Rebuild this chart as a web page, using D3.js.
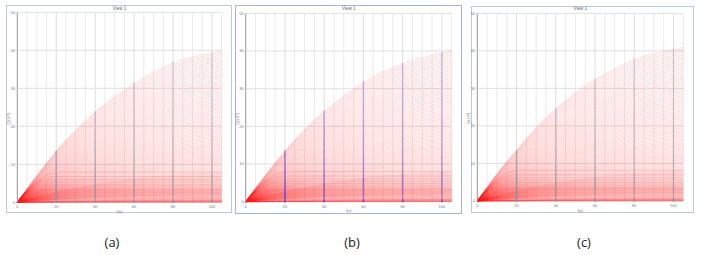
<!DOCTYPE html>
<html>
<head>
<meta charset="utf-8">
<script src="https://cdn.jsdelivr.net/npm/d3@7"></script>
<style>
  body { margin: 0; background: #fff; }
  svg { display: block; }
  .tick-label { font-family: "Liberation Sans", Arial, sans-serif; font-size: 4px; fill: #777; }
  .panel-title { font-family: "Liberation Sans", Arial, sans-serif; font-size: 4.5px; fill: #666; }
  .caption { font-family: "Open Sans", "Noto Sans", sans-serif; font-size: 13px; fill: #222; }
</style>
</head>
<body>
<svg id="canvas" width="705" height="255"></svg>
<script>
// x positions where the upper curve was read (s)
const xSamples = [0, 5, 10, 15, 20, 25, 30, 35, 40, 45, 50, 55, 60, 65, 70, 75, 80, 85, 90, 95, 100, 105];

// upper curve of each panel
const topA = [0, 3.6, 7.0, 10.3, 13.5, 16.4, 19.0, 21.5, 23.8, 25.9, 27.8, 29.6, 31.3, 32.8, 34.2, 35.5, 36.6, 37.5, 38.2, 38.8, 39.3, 39.8];
const topB = [0, 3.6, 7.0, 10.3, 13.4, 16.4, 19.1, 21.7, 24.0, 26.1, 28.1, 30.0, 31.7, 33.2, 34.5, 35.6, 36.6, 37.5, 38.2, 38.8, 39.4, 40.0];
const topC = [0, 3.7, 7.2, 10.5, 13.5, 16.6, 19.5, 22.2, 24.6, 26.8, 28.8, 30.7, 32.3, 33.8, 35.2, 36.5, 37.6, 38.5, 39.2, 39.8, 40.3, 41.0];

// height of each curve of the fan, relative to the upper curve (dense near the bottom)
const curveScales = [
  0, 0.001, 0.002, 0.003, 0.004, 0.005, 0.006, 0.008, 0.01, 0.012, 0.015,
  0.018, 0.025, 0.033, 0.042, 0.05,
  0.055, 0.06, 0.065, 0.07, 0.075, 0.08, 0.085, 0.09, 0.095, 0.10,
  0.105, 0.11, 0.115, 0.12, 0.125, 0.13, 0.135, 0.14, 0.145, 0.15,
  0.155, 0.16, 0.165, 0.17, 0.175, 0.18, 0.185, 0.19, 0.195, 0.20,
  0.207, 0.214, 0.221, 0.228, 0.235, 0.242, 0.249, 0.256, 0.263, 0.27,
  0.277, 0.284, 0.291, 0.298, 0.305, 0.313, 0.321, 0.329, 0.337, 0.345,
  0.353, 0.361, 0.369, 0.377, 0.385, 0.394, 0.403, 0.412, 0.421, 0.43,
  0.439, 0.448, 0.457, 0.466, 0.475, 0.485, 0.495, 0.505, 0.515, 0.525,
  0.535, 0.545, 0.555, 0.565, 0.575, 0.586, 0.597, 0.608, 0.619, 0.63,
  0.641, 0.652, 0.663, 0.674, 0.685, 0.697, 0.709, 0.721, 0.733, 0.745,
  0.757, 0.769, 0.781, 0.793, 0.805, 0.818, 0.831, 0.844, 0.857, 0.87,
  0.883, 0.896, 0.909, 0.922, 0.935, 0.948, 0.961, 0.974, 0.987, 1.0];

// short curves that bend off the upper curve near the origin (shrunk copies of it)
const copyScales = [
  0.01, 0.015, 0.02, 0.025, 0.03, 0.035, 0.04, 0.045, 0.05, 0.055, 0.06, 0.065,
  0.07, 0.075, 0.08, 0.085, 0.09, 0.10, 0.11, 0.12, 0.135, 0.15, 0.17, 0.20];

// measured sample columns (markers)
const markerX = [20, 40, 60, 80, 100];

const xTicks = [0, 20, 40, 60, 80, 100];
const yTicks = [0, 10, 20, 30, 40, 50];
const xMinor = [5, 10, 15, 25, 30, 35, 45, 50, 55, 65, 70, 75, 85, 90, 95, 105];

const captions = ["(a)", "(b)", "(c)"];
const titles = ["View 1", "View 1", "View 1"];

const panels = [
    { top: topA, box: [6, 5, 231, 212], px: [17.3, 221.7], py: [202.3, 12.3], cap: 112, marker: "#8a9ca8", border: "#b9c8dc" },
    { top: topB, box: [235, 5, 461, 213], px: [245.7, 451.7], py: [201.7, 13.3], cap: 352, marker: "#6e52d6", border: "#9fb4d6" },
    { top: topC, box: [471, 6, 693, 212], px: [477.3, 683.3], py: [201, 13.3], cap: 584, marker: "#8a9ca8", border: "#b9c8dc" }
];

const svg = d3.select("#canvas");

// shrunk copy of the upper curve, level once it runs out
function copyPoints(top, s) {
    const pts = xSamples.map((xv, j) => [xv * s, top[j] * s]);
    pts.push([105, top[top.length - 1] * s]);
    return pts;
}

panels.forEach((p, k) => {
    const g = svg.append("g");
    const x = d3.scaleLinear().domain([0, 105]).range(p.px);
    const y = d3.scaleLinear().domain([0, 50]).range(p.py);

    // outer frame
    g.append("rect")
        .attr("x", p.box[0] + 0.5).attr("y", p.box[1] + 0.5)
        .attr("width", p.box[2] - p.box[0]).attr("height", p.box[3] - p.box[1])
        .attr("fill", "none").attr("stroke", p.border).attr("stroke-width", 1);

    g.append("text").attr("class", "panel-title")
        .attr("x", (p.px[0] + p.px[1]) / 2).attr("y", 9.5)
        .attr("text-anchor", "middle").text(titles[k]);

    // grid
    g.selectAll(".minor").data(xMinor).join("line")
        .attr("x1", d => x(d)).attr("x2", d => x(d))
        .attr("y1", y(0)).attr("y2", y(50))
        .attr("stroke", "#e6e6e6").attr("stroke-width", 0.8);
    g.selectAll(".vmajor").data(xTicks).join("line")
        .attr("x1", d => x(d)).attr("x2", d => x(d))
        .attr("y1", y(0)).attr("y2", y(50))
        .attr("stroke", "#dadada").attr("stroke-width", 0.9);
    g.selectAll(".hmajor").data(yTicks).join("line")
        .attr("x1", x(0)).attr("x2", x(105))
        .attr("y1", d => y(d)).attr("y2", d => y(d))
        .attr("stroke", "#dcdcdc").attr("stroke-width", 0.9);

    const line = d3.line().x(d => x(d[0])).y(d => y(d[1])).curve(d3.curveMonotoneX);

    // fan: the upper curve at lower heights
    const curves = curveScales.map(s => p.top.map((v, i) => [xSamples[i], v * s]));
    const copies = copyScales.map(s => copyPoints(p.top, s));

    g.append("g").selectAll("path").data(copies).join("path")
        .attr("d", line)
        .attr("fill", "none")
        .attr("stroke", "#ff1414")
        .attr("stroke-opacity", 0.25)
        .attr("stroke-width", 0.7);

    g.append("g").selectAll("path").data(curves).join("path")
        .attr("d", line)
        .attr("fill", "none")
        .attr("stroke", "#ff1414")
        .attr("stroke-opacity", 0.2)
        .attr("stroke-width", 0.7);

    // sample markers on the fan
    const marks = [];
    curves.forEach(c => markerX.forEach(mx => marks.push(c[xSamples.indexOf(mx)])));
    g.append("g").selectAll("circle").data(marks).join("circle")
        .attr("cx", d => x(d[0])).attr("cy", d => y(d[1]))
        .attr("r", 0.9)
        .attr("fill", p.marker).attr("fill-opacity", 0.3);

    // y axis
    g.append("line")
        .attr("x1", x(0)).attr("x2", x(0)).attr("y1", y(0)).attr("y2", y(50))
        .attr("stroke", "#a0a0a0").attr("stroke-width", 1);
    g.selectAll(".ylab").data(yTicks).join("text").attr("class", "tick-label")
        .attr("x", x(0) - 2).attr("y", d => y(d) + 1.4)
        .attr("text-anchor", "end").text(d => d);
    g.selectAll(".xlab").data(xTicks).join("text").attr("class", "tick-label")
        .attr("x", d => x(d)).attr("y", y(0) + 6)
        .attr("text-anchor", "middle").text(d => d);

    g.append("text").attr("class", "tick-label")
        .attr("x", (p.px[0] + p.px[1]) / 2).attr("y", y(0) + 10.5)
        .attr("text-anchor", "middle").text("t(s)");
    g.append("text").attr("class", "tick-label")
        .attr("transform", `translate(${p.px[0] - 7},${y(22)}) rotate(-90)`)
        .attr("text-anchor", "middle").text("Q(10³)");

    svg.append("text").attr("class", "caption")
        .attr("x", p.cap).attr("y", 247)
        .attr("text-anchor", "middle").text(captions[k]);
});
</script>
</body>
</html>
